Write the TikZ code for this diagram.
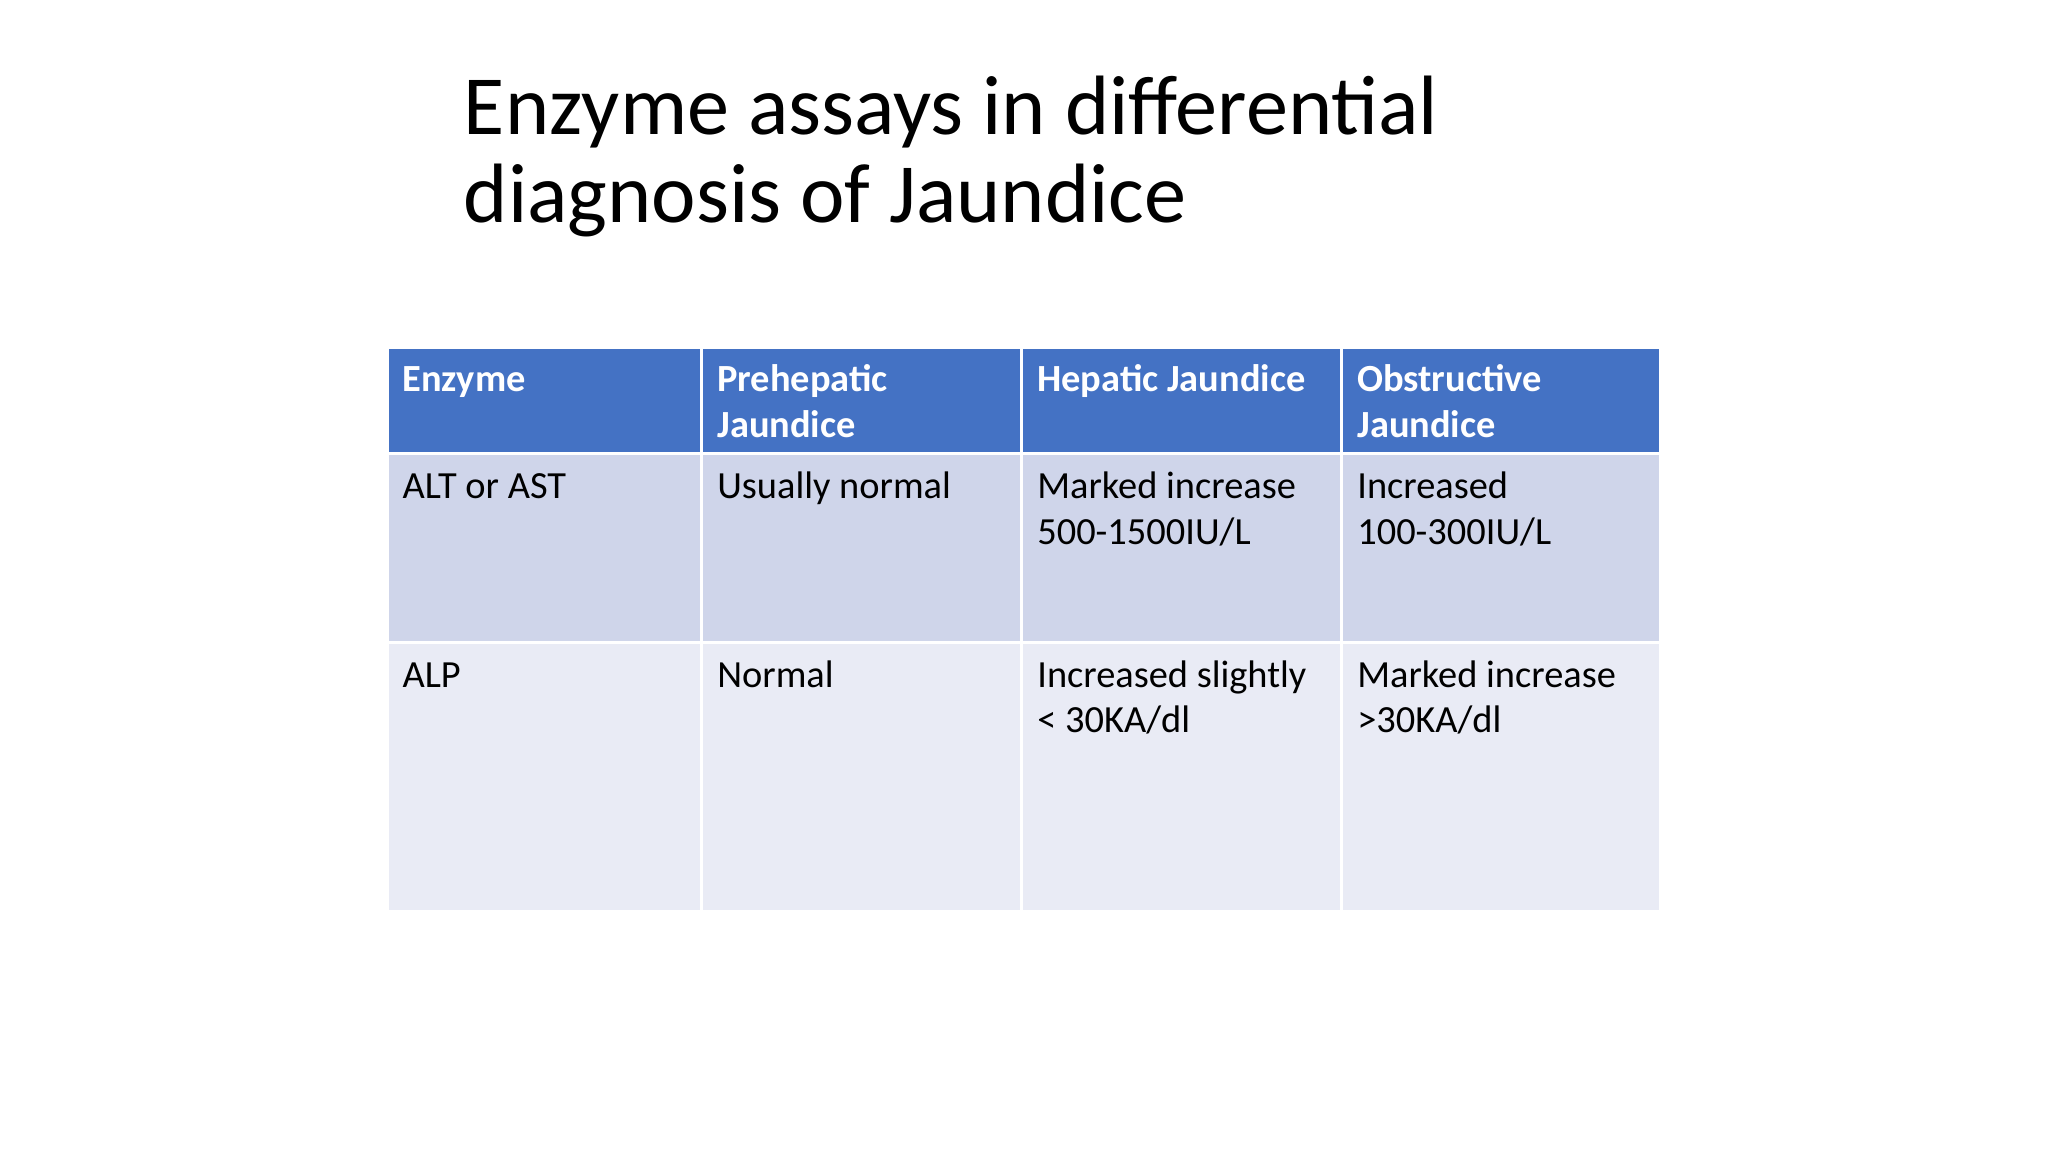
\documentclass[tikz,border=0pt]{standalone}
\usepackage{fontspec}
\setmainfont{Carlito}
\definecolor{hdr}{HTML}{4472C4}
\definecolor{rowa}{HTML}{CFD5EA}
\definecolor{rowb}{HTML}{E9EBF5}
\newcommand{\ml}[1]{\begin{tabular}[t]{@{}l@{}}#1\end{tabular}}
\tikzset{
  cell/.style={draw=white,line width=2pt},
  txt/.style={anchor=base west,inner sep=0pt,font=\fontsize{29.4}{35}\selectfont\renewcommand{\arraystretch}{1}\setlength{\baselineskip}{35pt}},
  htxt/.style={txt,text=white,font=\fontsize{29.4}{35}\selectfont\bfseries},
}
\begin{document}
\begin{tikzpicture}[x=1pt,y=-1pt]
\useasboundingbox (0,0) rectangle (1568,882);
\fill[white] (0,0) rectangle (1568,882);
\node[anchor=base west,inner sep=0pt,font=\fontsize{64.5}{69}\selectfont] (title) at (355,103) {\begin{tabular}[t]{@{}l@{}}Enzyme assays in differential\\[-2pt]diagnosis of Jaundice\end{tabular}};
% cells
\foreach \xa/\xb in {297/537,537/782,782/1027,1027/1271}{
  \fill[hdr,cell] (\xa,266) rectangle (\xb,347);
  \fill[rowa,cell] (\xa,347) rectangle (\xb,492);
  \fill[rowb,cell] (\xa,492) rectangle (\xb,698);
}
\node[htxt] (h1) at (308,300) {Enzyme};
\node[htxt] (h2) at (549,300) {\ml{Prehepatic\\Jaundice}};
\node[htxt] (h3) at (794,300) {Hepatic Jaundice};
\node[htxt] (h4) at (1039,300) {\ml{Obstructive\\Jaundice}};
\node[txt] (a1) at (308,382) {ALT or AST};
\node[txt] (a2) at (549,382) {Usually normal};
\node[txt] (a3) at (794,382) {\ml{Marked increase\\500-1500IU/L}};
\node[txt] (a4) at (1039,382) {\ml{Increased\\100-300IU/L}};
\node[txt] (b1) at (308,526) {ALP};
\node[txt] (b2) at (549,526) {Normal};
\node[txt] (b3) at (794,526) {\ml{Increased slightly\\< 30KA/dl}};
\node[txt] (b4) at (1039,526) {\ml{Marked increase\\>30KA/dl}};
\end{tikzpicture}
\end{document}
